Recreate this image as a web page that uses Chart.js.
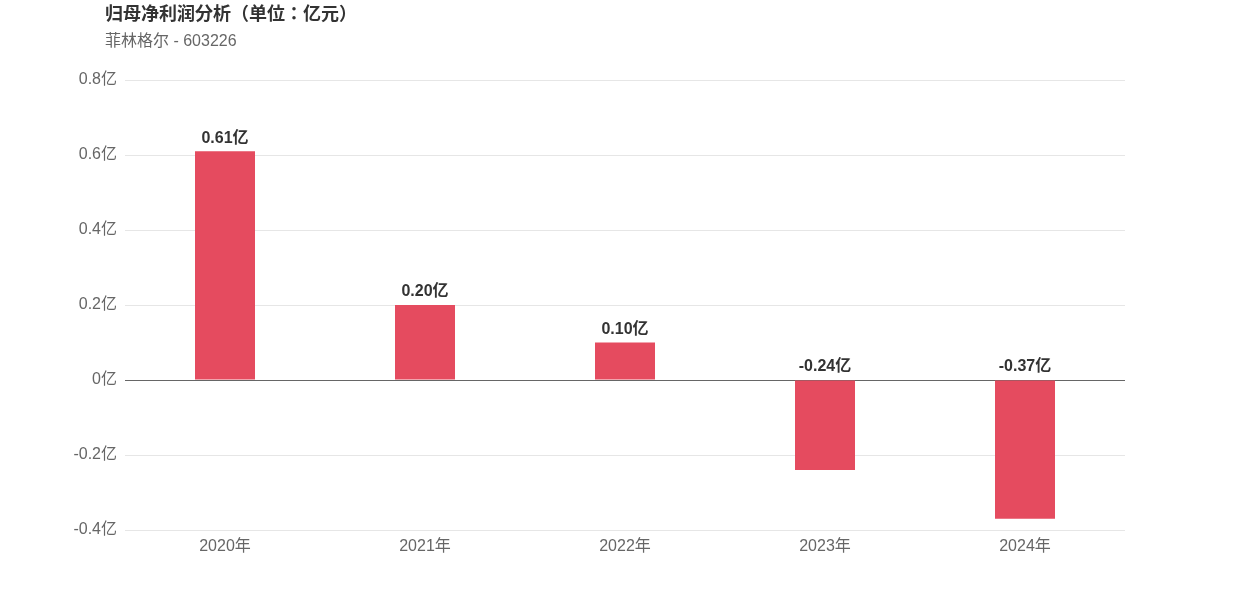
<!DOCTYPE html>
<html>
<head>
<meta charset="utf-8">
<script src="https://cdn.jsdelivr.net/npm/chart.js@4"></script>
<style>
  body { margin: 0; background: #fff; font-family: "Liberation Sans", "Noto Sans CJK SC", sans-serif; }
  #wrap { position: relative; width: 1250px; height: 600px; }
  #title { position: absolute; left: 105px; top: -1px; font-size: 18px; font-weight: bold; color: #333; font-family: "Liberation Sans", "Noto Sans CJK JP", sans-serif; }
  #subtitle { position: absolute; left: 105px; top: 27px; font-size: 16px; color: #666; }
  canvas { position: absolute; left: 0; top: 0; }
</style>
</head>
<body>
<div id="wrap">
  <canvas id="chart" width="1250" height="600"></canvas>
  <div id="title">归母净利润分析（单位：亿元）</div>
  <div id="subtitle">菲林格尔 - 603226</div>
</div>
<script>
// Chart data
const years = ['2020年', '2021年', '2022年', '2023年', '2024年'];
const profit = [0.61, 0.20, 0.10, -0.24, -0.37];
const yTicks = [0.8, 0.6, 0.4, 0.2, 0, -0.2, -0.4];

const fontFamily = '"Liberation Sans", "Noto Sans CJK SC", sans-serif';

// Plugin to draw value labels above bars (above zero line for negatives)
const valueLabels = {
    id: 'valueLabels',
    afterDatasetsDraw(chart) {
        const ctx = chart.ctx;
        const meta = chart.getDatasetMeta(0);
        const zeroY = chart.scales.y.getPixelForValue(0);
        ctx.save();
        ctx.font = 'bold 16px ' + fontFamily;
        ctx.fillStyle = '#333';
        ctx.textAlign = 'center';
        ctx.textBaseline = 'bottom';
        meta.data.forEach((bar, i) => {
            const v = profit[i];
            const y = v >= 0 ? bar.y : zeroY;
            ctx.fillText(v.toFixed(2) + '亿', bar.x, y - 5);
        });
        ctx.restore();
    }
};

function initChart() {
    const ctx = document.getElementById('chart');
    new Chart(ctx, {
        type: 'bar',
        data: {
            labels: years,
            datasets: [{
                data: profit,
                backgroundColor: '#e54b5f',
                barPercentage: 0.6,
                categoryPercentage: 0.5
            }]
        },
        options: {
            responsive: false,
            animation: false,
            layout: { padding: { top: 80, right: 125, left: 0, bottom: 0 } },
            plugins: {
                legend: { display: false },
                tooltip: { enabled: false }
            },
            scales: {
                x: {
                    grid: { display: false },
                    border: { display: false },
                    ticks: { color: '#666', font: { family: fontFamily, size: 16 }, padding: -1 },
                    afterFit: s => { s.height = 70; }
                },
                y: {
                    min: -0.4,
                    max: 0.8,
                    afterBuildTicks: s => { s.ticks = yTicks.map(v => ({ value: v })); },
                    grid: {
                        color: c => c.tick && c.tick.value === 0 ? '#666' : '#e6e6e6',
                        drawTicks: false
                    },
                    border: { display: false },
                    ticks: {
                        color: '#666',
                        font: { family: fontFamily, size: 16 },
                        padding: 8,
                        callback: v => v + '亿'
                    },
                    afterFit: s => { s.width = 125; }
                }
            }
        },
        plugins: [valueLabels]
    });
}

document.addEventListener('DOMContentLoaded', initChart);
</script>
</body>
</html>
